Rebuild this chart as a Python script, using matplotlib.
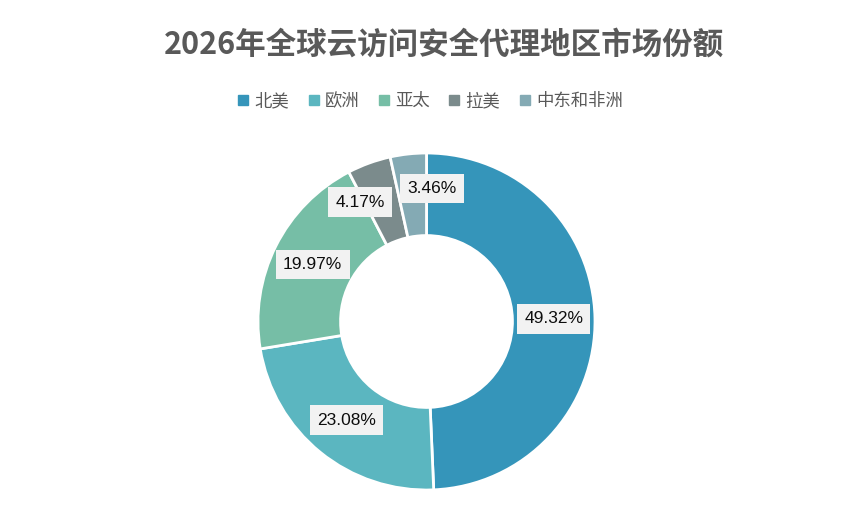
import matplotlib
matplotlib.use("Agg")
import matplotlib.pyplot as plt
from matplotlib.lines import Line2D
import numpy as np

plt.rcParams['font.family'] = ['Noto Sans CJK SC', 'DejaVu Sans']

title = "2026年全球云访问安全代理地区市场份额"
regions = ["北美", "欧洲", "亚太", "拉美", "中东和非洲"]
shares = [49.32, 23.08, 19.97, 4.17, 3.46]
colors = ["#3595BA", "#5BB6C0", "#76BEA6", "#7B8B8C", "#84AAB4"]

W, H = 860, 505
fig = plt.figure(figsize=(W / 100, H / 100), dpi=100)
fig.patch.set_facecolor("white")

# pie axes
cx, cy, r = 426.5, 321.5, 168.5
half = 175
ax = fig.add_axes([(cx - half) / W, (H - cy - half) / H, 2 * half / W, 2 * half / H])

hole = 0.51
wedges, _ = ax.pie(shares, colors=colors, startangle=90, counterclock=False,
                   radius=1.0, wedgeprops=dict(width=1 - hole, edgecolor="white", linewidth=2.0))
ax.set_xlim(-half / r, half / r)
ax.set_ylim(-half / r, half / r)
ax.set_aspect("equal")
ax.axis("off")

# label placement (angle offset in degrees clockwise, radial factor)
ang_off = [0, 0, 0, -9, 8.5]
rad = [0.755, 0.755, 0.755, 0.81, 0.79]
cum = np.cumsum([0] + shares[:-1])
for i, v in enumerate(shares):
    mid = (cum[i] + v / 2) / 100 * 360 + ang_off[i]
    th = np.deg2rad(90 - mid)
    x, y = rad[i] * np.cos(th), rad[i] * np.sin(th)
    ax.text(x, y, f"{v:.2f}%", ha="center", va="center", fontsize=12.5,
            family=["Liberation Sans", "DejaVu Sans"], color="#0D0D0D",
            bbox=dict(boxstyle="square,pad=0.42", facecolor="#F2F2F2", edgecolor="none"))

# title
fig.text(443.5 / W, 1 - 45 / H, title, ha="center", va="center", fontsize=22,
         fontweight="bold", color="#595959")

# legend
handles = [Line2D([0], [0], marker="s", linestyle="none", markersize=6.5,
                  markerfacecolor=c, markeredgecolor=c) for c in colors]
fig.legend(handles, regions, loc="center", bbox_to_anchor=(430 / W, 1 - 101 / H), ncol=5,
           frameon=False, fontsize=12.5, labelcolor="#595959", handlelength=0.7,
           handletextpad=0.3, columnspacing=1.05, borderpad=0, borderaxespad=0)

fig.savefig("out.png", dpi=100, facecolor="white")
